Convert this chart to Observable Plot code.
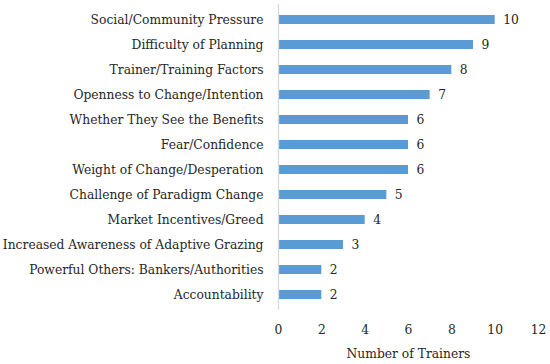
<!DOCTYPE html>
<html><head><meta charset="utf-8">
<script src="https://cdn.jsdelivr.net/npm/d3@7"></script>
<script src="https://cdn.jsdelivr.net/npm/@observablehq/plot@0.6"></script>
<style>
body{margin:0;background:#fff;}
svg, svg text{font-family:"DejaVu Serif",serif !important;}
</style></head><body>
<div id="chart"></div>
<script>
const categories = ["Social/Community Pressure","Difficulty of Planning","Trainer/Training Factors","Openness to Change/Intention","Whether They See the Benefits","Fear/Confidence","Weight of Change/Desperation","Challenge of Paradigm Change","Market Incentives/Greed","Increased Awareness of Adaptive Grazing","Powerful Others: Bankers/Authorities","Accountability"];
const values = [10,9,8,7,6,6,6,5,4,3,2,2];
const xTicks = [0,2,4,6,8,10,12];
const xLabel = "Number of Trainers";
const data = categories.map((c,i)=>({category:c, value:values[i]}));
const fs = 12.3;

const chart = Plot.plot({
  width:550, height:364,
  marginLeft:278, marginRight:12, marginTop:4, marginBottom:54,
  style:{fontFamily:"'DejaVu Serif', serif", fontSize:fs+"px", color:"#262626", background:"#fff"},
  x:{domain:[0,12], ticks:xTicks},
  y:{domain:categories, paddingInner:0.64, paddingOuter:0.32},
  marks:[
    Plot.barX(data,{y:"category", x:"value", fill:"#5B9BD5"}),
    Plot.ruleX([0],{stroke:"#d9d9d9", strokeWidth:1.3}),
    Plot.text(data,{y:"category", x:"value", text:d=>String(d.value), textAnchor:"start", dx:8, fill:"#262626", fontSize:fs}),
    Plot.axisY({tickSize:0, tickPadding:15, label:null, fontSize:fs}),
    Plot.axisX({ticks:xTicks, tickSize:0, tickPadding:15, label:xLabel, labelAnchor:"center", labelArrow:"none", labelOffset:47, fontSize:fs})
  ]
});
document.getElementById("chart").appendChild(chart);
</script></body></html>
